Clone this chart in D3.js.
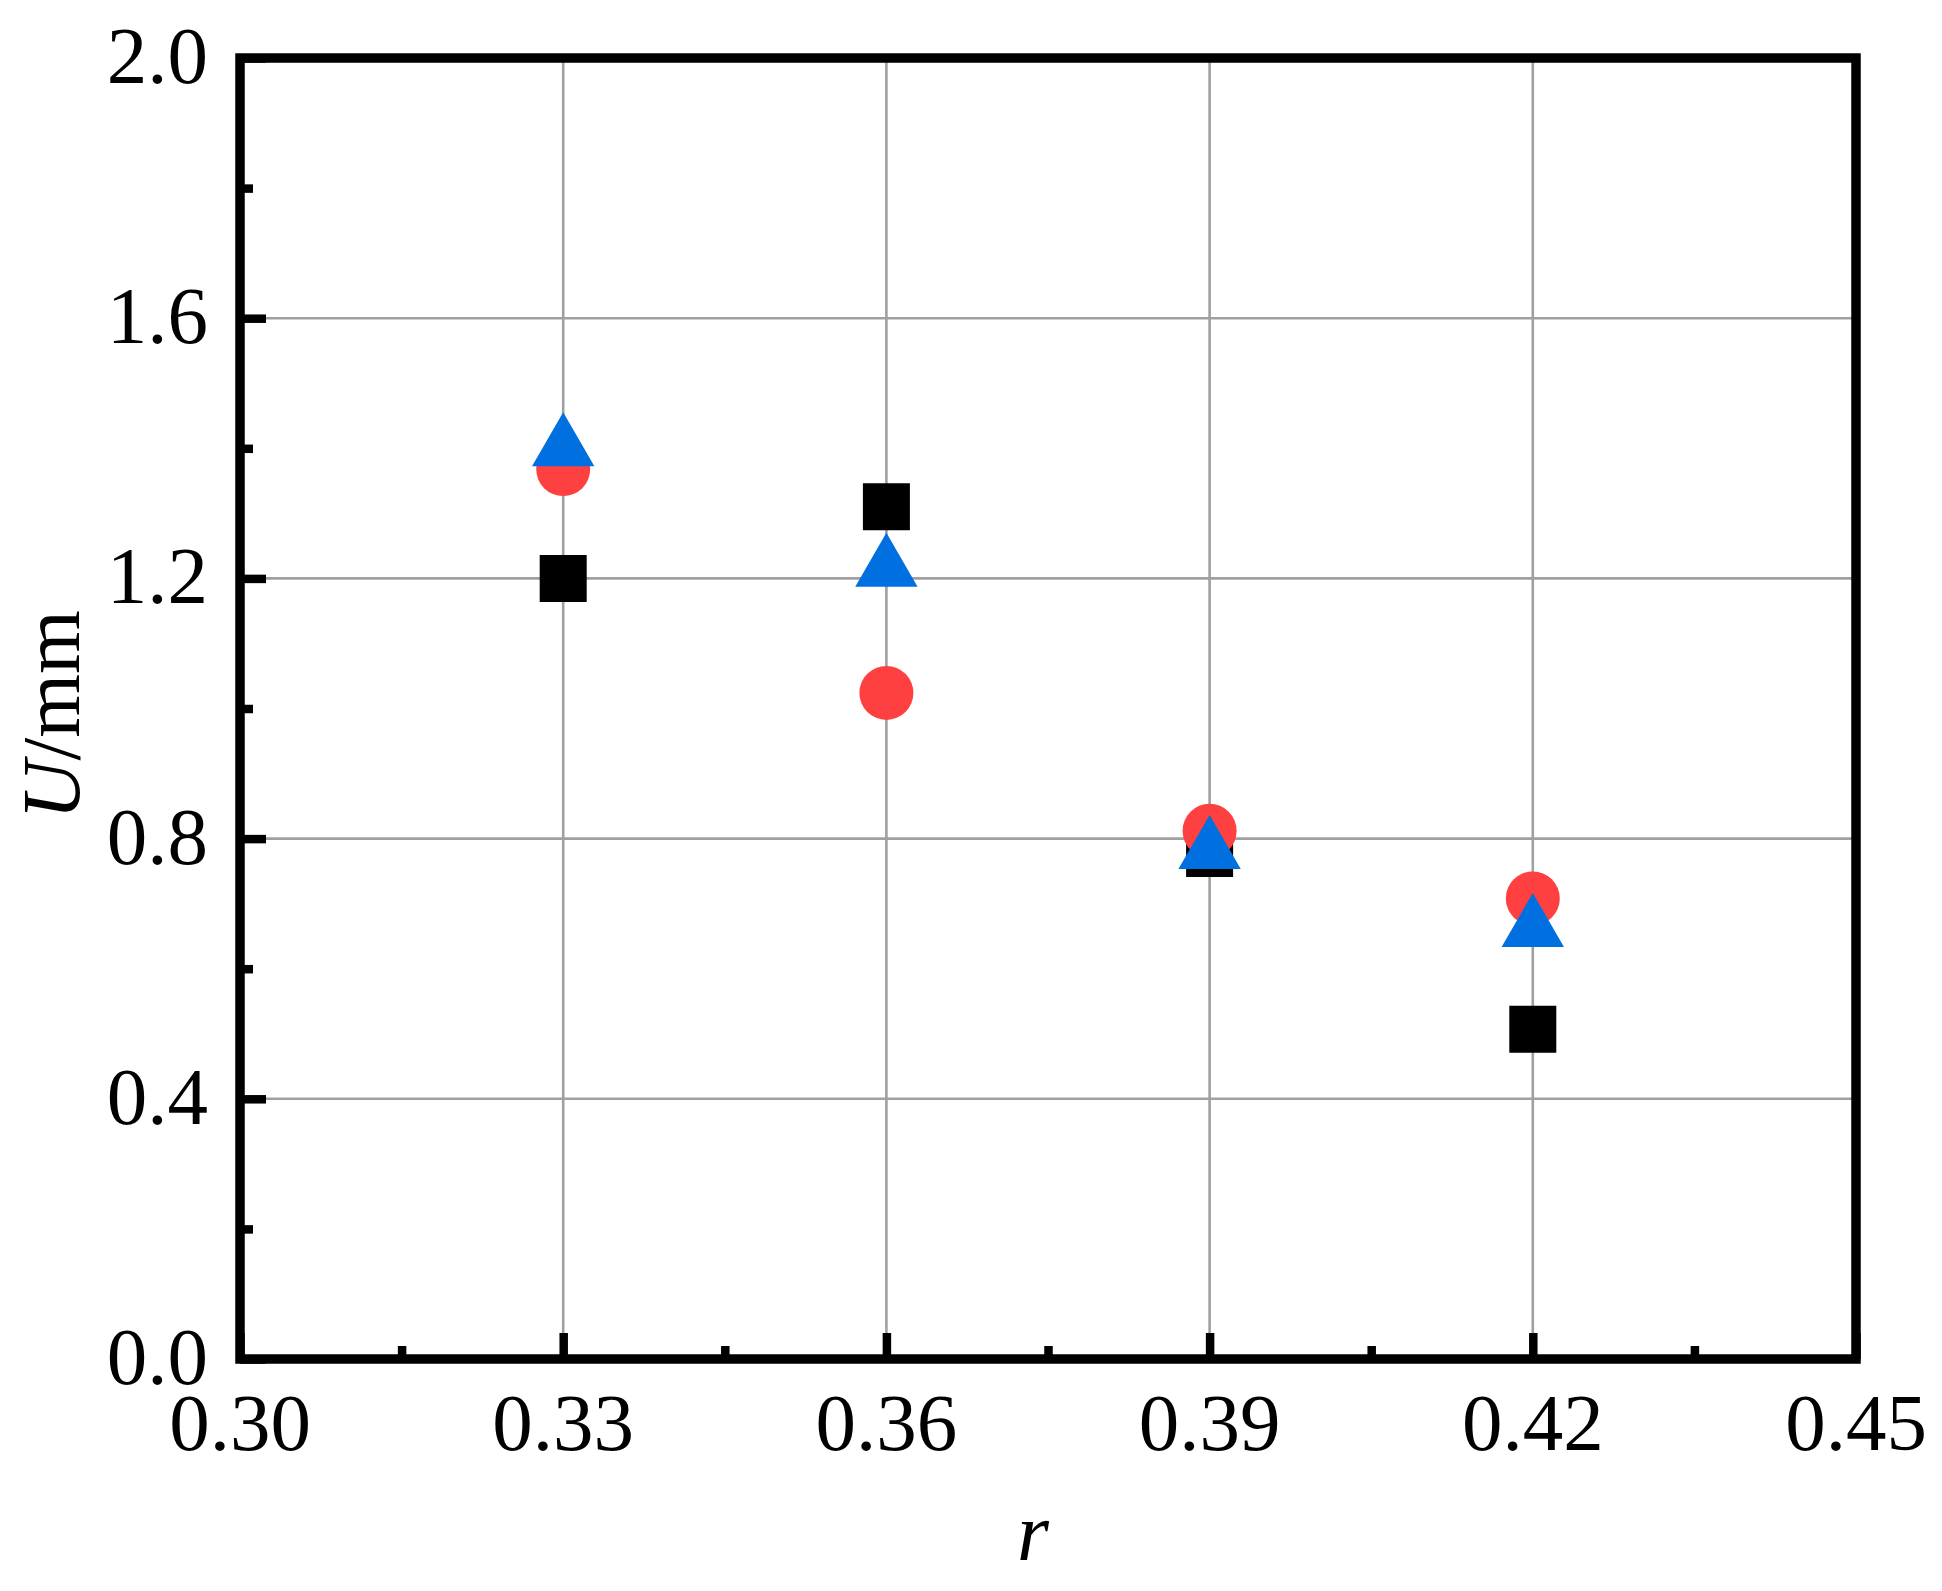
<!DOCTYPE html>
<html>
<head>
<meta charset="utf-8">
<script src="https://cdn.jsdelivr.net/npm/d3@7"></script>
<style>
  body { margin: 0; background: #fff; }
  text { font-family: "Liberation Serif", "Times New Roman", serif; }
</style>
</head>
<body>
<div id="chart"></div>
<script>
// values
var rValues = [0.33, 0.36, 0.39, 0.42];
var squareValues = [1.20, 1.31, 0.777, 0.507];
var circleValues = [1.368, 1.024, 0.812, 0.708];
var triangleValues = [1.40, 1.215, 0.781, 0.661];

var xTicks = [0.30, 0.33, 0.36, 0.39, 0.42, 0.45];
var xMinor = [0.315, 0.345, 0.375, 0.405, 0.435];
var yTicks = [0.0, 0.4, 0.8, 1.2, 1.6, 2.0];
var yMinor = [0.2, 0.6, 1.0, 1.4, 1.8];

var width = 1942,
    height = 1591,
    plotLeft = 240, plotRight = 1856, plotTop = 58, plotBottom = 1359;

var svg = d3.select("#chart")
    .append("svg")
    .attr("width", width)
    .attr("height", height);

svg.append("rect")
    .attr("width", width)
    .attr("height", height)
    .attr("fill", "white");

var x = d3.scaleLinear().domain([0.30, 0.45]).range([plotLeft, plotRight]);
var y = d3.scaleLinear().domain([0, 2.0]).range([plotBottom, plotTop]);

// grid
svg.append("g").selectAll("line").data(xTicks.slice(1, -1)).enter()
    .append("line")
    .attr("x1", function(d) { return x(d); })
    .attr("x2", function(d) { return x(d); })
    .attr("y1", plotTop)
    .attr("y2", plotBottom)
    .attr("stroke", "#a0a0a0")
    .attr("stroke-width", 2.6);

svg.append("g").selectAll("line").data(yTicks.slice(1, -1)).enter()
    .append("line")
    .attr("y1", function(d) { return y(d); })
    .attr("y2", function(d) { return y(d); })
    .attr("x1", plotLeft)
    .attr("x2", plotRight)
    .attr("stroke", "#a0a0a0")
    .attr("stroke-width", 2.6);

// ticks (inward, bottom and left only)
var xAxis = d3.axisBottom(x).tickValues(xTicks).tickSize(-26).tickFormat("");
var xAxisMinor = d3.axisBottom(x).tickValues(xMinor).tickSize(-13).tickFormat("");
var yAxis = d3.axisLeft(y).tickValues(yTicks).tickSize(-26).tickFormat("");
var yAxisMinor = d3.axisLeft(y).tickValues(yMinor).tickSize(-13).tickFormat("");

[xAxis, xAxisMinor].forEach(function(a) {
    svg.append("g").attr("transform", "translate(0," + plotBottom + ")").call(a);
});
[yAxis, yAxisMinor].forEach(function(a) {
    svg.append("g").attr("transform", "translate(" + plotLeft + ",0)").call(a);
});
svg.selectAll(".domain").remove();
svg.selectAll(".tick line").attr("stroke", "black").attr("stroke-width", 8.5);

// tick labels
svg.append("g").selectAll("text").data(xTicks).enter()
    .append("text")
    .text(function(d) { return d3.format(".2f")(d); })
    .attr("x", function(d) { return x(d); })
    .attr("y", 1450)
    .attr("text-anchor", "middle")
    .attr("font-size", "81px")
    .attr("fill", "black");

svg.append("g").selectAll("text").data(yTicks).enter()
    .append("text")
    .text(function(d) { return d3.format(".1f")(d); })
    .attr("x", 208)
    .attr("y", function(d) { return y(d) + 25; })
    .attr("text-anchor", "end")
    .attr("font-size", "81px")
    .attr("fill", "black");

// markers
var sq = d3.symbol().type(d3.symbolSquare).size(47 * 47);
var tri = d3.symbol().type(d3.symbolTriangle).size(1684);

svg.append("g").selectAll("path").data(rValues).enter()
    .append("path")
    .attr("d", sq)
    .attr("transform", function(d, i) { return "translate(" + x(d) + "," + y(squareValues[i]) + ")"; })
    .attr("fill", "black");

svg.append("g").selectAll("circle").data(rValues).enter()
    .append("circle")
    .attr("cx", function(d) { return x(d); })
    .attr("cy", function(d, i) { return y(circleValues[i]); })
    .attr("r", 27)
    .attr("fill", "#ff4040");

svg.append("g").selectAll("path").data(rValues).enter()
    .append("path")
    .attr("d", tri)
    .attr("transform", function(d, i) { return "translate(" + x(d) + "," + y(triangleValues[i]) + ")"; })
    .attr("fill", "#0070e0");

// frame
svg.append("rect")
    .attr("x", plotLeft)
    .attr("y", plotTop)
    .attr("width", plotRight - plotLeft)
    .attr("height", plotBottom - plotTop)
    .attr("fill", "none")
    .attr("stroke", "black")
    .attr("stroke-width", 9.5);

// axis titles
svg.append("text")
    .attr("x", 1033)
    .attr("y", 1560)
    .attr("text-anchor", "middle")
    .attr("font-size", "82px")
    .attr("font-style", "italic")
    .text("r");

var yt = svg.append("text")
    .attr("transform", "translate(79,715) rotate(-90)")
    .attr("text-anchor", "middle")
    .attr("font-size", "82px");
yt.append("tspan").attr("font-style", "italic").text("U");
yt.append("tspan").text("/mm");
</script>
</body>
</html>
